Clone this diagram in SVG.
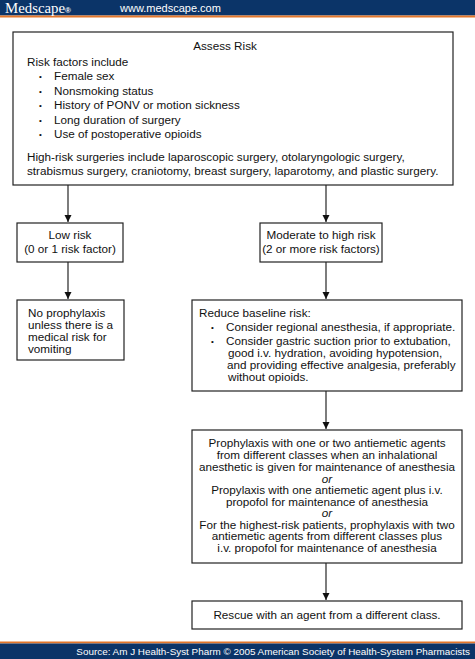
<svg xmlns="http://www.w3.org/2000/svg" width="475" height="659" viewBox="0 0 475 659">
<style>
.t{font-family:"Liberation Sans",Arial,sans-serif;font-size:11.7px;fill:#111}
.b{font-family:"Liberation Sans",Arial,sans-serif;font-size:8px;fill:#111}
.c{text-anchor:middle}
.box{fill:#fff;stroke:#222;stroke-width:1.2}
.ln{stroke:#111;stroke-width:1.1;fill:none}
.w{fill:#fff;font-family:"Liberation Sans",Arial,sans-serif}
</style>
<defs>
<marker id="ah" markerUnits="userSpaceOnUse" markerWidth="8" markerHeight="9" refX="7" refY="3.5" orient="auto">
<path d="M0,0 L7,3.5 L0,7 z" fill="#111"/>
</marker>
</defs>
<rect width="475" height="659" fill="#fff"/>
<g id="header">
<rect x="0" y="0" width="475" height="15.5" fill="#0b3468"/>
<rect x="0" y="15.5" width="475" height="2" fill="#e2762b"/>
<text x="5" y="13" fill="#fff" style="font-family:'Liberation Serif','Times New Roman',serif;font-size:15px" textLength="60" lengthAdjust="spacingAndGlyphs">Medscape</text>
<text x="65" y="13" fill="#fff" style="font-family:'Liberation Sans',Arial,sans-serif;font-size:8px;font-weight:bold">®</text>
<text x="120" y="12" class="w" style="font-size:11px">www.medscape.com</text>
</g>
<g id="footer">
<rect x="0" y="641.5" width="475" height="2" fill="#e2762b"/>
<rect x="0" y="643.5" width="475" height="15.5" fill="#0b3468"/>
<text x="470" y="654.5" class="w" style="font-size:9.9px;text-anchor:end">Source: Am J Health-Syst Pharm © 2005 American Society of Health-System Pharmacists</text>
</g>
<g id="connectors">
<line class="ln" x1="68" y1="185" x2="68" y2="222" marker-end="url(#ah)"/>
<line class="ln" x1="326" y1="185" x2="326" y2="222" marker-end="url(#ah)"/>
<line class="ln" x1="68" y1="262" x2="68" y2="299" marker-end="url(#ah)"/>
<line class="ln" x1="326" y1="262" x2="326" y2="299" marker-end="url(#ah)"/>
<line class="ln" x1="326" y1="391" x2="326" y2="429" marker-end="url(#ah)"/>
<line class="ln" x1="326" y1="563" x2="326" y2="600" marker-end="url(#ah)"/>
</g>
<g id="assess">
<rect class="box" x="13" y="32" width="440" height="153"/>
<text class="t c" x="225" y="50">Assess Risk</text>
<text class="t" x="27" y="66">Risk factors include</text>
<text class="b" x="39" y="79">•</text><text class="t" x="54" y="80">Female sex</text>
<text class="b" x="39" y="93.5">•</text><text class="t" x="54" y="94.5">Nonsmoking status</text>
<text class="b" x="39" y="108">•</text><text class="t" x="54" y="109">History of PONV or motion sickness</text>
<text class="b" x="39" y="122.5">•</text><text class="t" x="54" y="123.5">Long duration of surgery</text>
<text class="b" x="39" y="137">•</text><text class="t" x="54" y="138">Use of postoperative opioids</text>
<text class="t" x="27" y="161">High-risk surgeries include laparoscopic surgery, otolaryngologic surgery,</text>
<text class="t" x="27" y="175">strabismus surgery, craniotomy, breast surgery, laparotomy, and plastic surgery.</text>
</g>
<g id="low">
<rect class="box" x="17" y="223" width="106" height="39"/>
<text class="t c" x="70" y="239">Low risk</text>
<text class="t c" x="70" y="253">(0 or 1 risk factor)</text>
</g>
<g id="moderate">
<rect class="box" x="260" y="223" width="122" height="39"/>
<text class="t c" x="321" y="239">Moderate to high risk</text>
<text class="t c" x="321" y="253">(2 or more risk factors)</text>
</g>
<g id="noproph">
<rect class="box" x="17" y="300" width="107" height="60"/>
<text class="t" x="28" y="317">No prophylaxis</text>
<text class="t" x="28" y="329">unless there is a</text>
<text class="t" x="28" y="341">medical risk for</text>
<text class="t" x="28" y="353">vomiting</text>
</g>
<g id="reduce">
<rect class="box" x="192" y="300" width="270" height="91"/>
<text class="t" x="199" y="317">Reduce baseline risk:</text>
<text class="b" x="211" y="330">•</text><text class="t" x="226" y="331">Consider regional anesthesia, if appropriate.</text>
<text class="b" x="211" y="344">•</text><text class="t" x="226" y="345">Consider gastric suction prior to extubation,</text>
<text class="t" x="228" y="357">good i.v. hydration, avoiding hypotension,</text>
<text class="t" x="227" y="369">and providing effective analgesia, preferably</text>
<text class="t" x="228" y="381">without opioids.</text>
</g>
<g id="prophylaxis">
<rect class="box" x="192" y="430" width="270" height="133"/>
<text class="t c" x="327" y="447">Prophylaxis with one or two antiemetic agents</text>
<text class="t c" x="327" y="459">from different classes when an inhalational</text>
<text class="t c" x="327" y="471">anesthetic is given for maintenance of anesthesia</text>
<text class="t c" x="327" y="482.5" font-style="italic">or</text>
<text class="t c" x="327" y="494">Propylaxis with one antiemetic agent plus i.v.</text>
<text class="t c" x="327" y="505.5">propofol for maintenance of anesthesia</text>
<text class="t c" x="327" y="517" font-style="italic">or</text>
<text class="t c" x="327" y="528.5">For the highest-risk patients, prophylaxis with two</text>
<text class="t c" x="327" y="540">antiemetic agents from different classes plus</text>
<text class="t c" x="327" y="551.5">i.v. propofol for maintenance of anesthesia</text>
</g>
<g id="rescue">
<rect class="box" x="192" y="601" width="270" height="28"/>
<text class="t c" x="327" y="619">Rescue with an agent from a different class.</text>
</g>
</svg>
